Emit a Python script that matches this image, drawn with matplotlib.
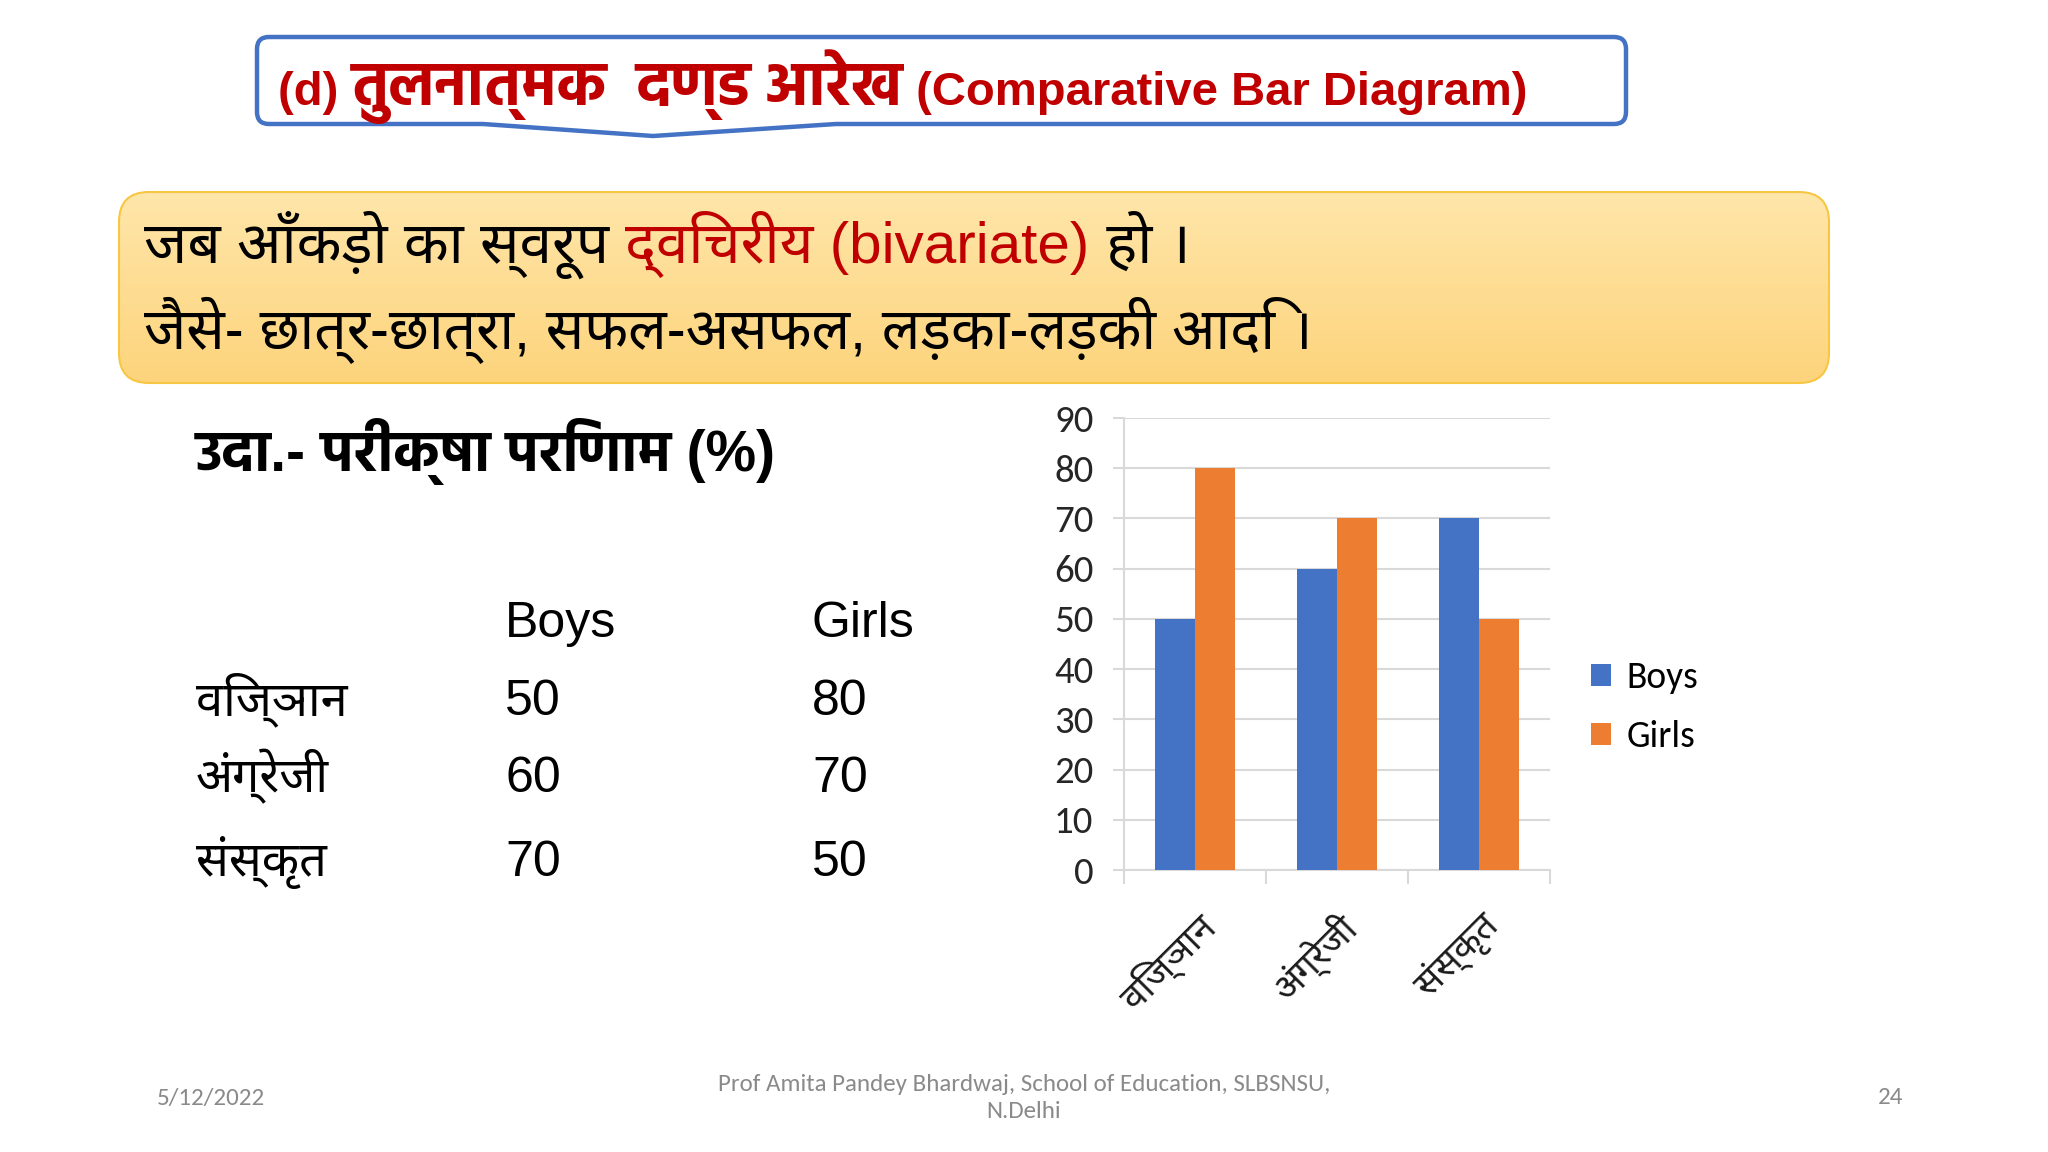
import matplotlib
matplotlib.use("Agg")
import matplotlib.pyplot as plt
import numpy as np
from matplotlib import font_manager as fm
from matplotlib.patches import FancyBboxPatch, PathPatch
from matplotlib.path import Path
from matplotlib.colors import LinearSegmentedColormap

# data
subjects = ["विज्ञान", "अंग्रेजी", "संस्कृत"]
series_names = ["Boys", "Girls"]
boys = [50, 60, 70]
girls = [80, 70, 50]
yticks = [0, 10, 20, 30, 40, 50, 60, 70, 80, 90]

title_parts = ["(d) ", "तुलनात्मक  दण्ड आरेख", " (Comparative Bar Diagram)"]
line1_parts = ["जब आँकड़ो का स्वरूप ", "द्विचरीय (bivariate)", " हो ।"]
line2 = "जैसे- छात्र-छात्रा, सफल-असफल, लड़का-लड़की आदि ।"
example_head = "उदा.- परीक्षा परिणाम (%)"
footer_date = "5/12/2022"
footer_mid = "Prof Amita Pandey Bhardwaj, School of Education, SLBSNSU,\nN.Delhi"
footer_page = "24"

BLUE = "#4472C4"
ORANGE = "#ED7D31"
RED = "#C00000"


def pick(cands, fallback="FreeSans", bold=False):
    # first installed family of the list (with a real bold face if asked)
    for c in cands:
        faces = [f for f in fm.fontManager.ttflist if f.name == c]
        if not faces:
            continue
        if bold and not any(isinstance(f.weight, int) and f.weight >= 700 or f.weight == "bold"
                            for f in faces):
            continue
        return c
    return fallback


DEV = pick(["Noto Sans Devanagari", "Hind", "Mukta", "Poppins", "Annapurna SIL"])
DEVB = pick(["Noto Sans Devanagari", "Hind", "Mukta", "Poppins", "Annapurna SIL"], bold=True)
LAT = pick(["Liberation Sans", "Arial"], "DejaVu Sans")
CAL = pick(["Carlito", "Calibri"], "DejaVu Sans")

plt.rcParams["font.family"] = [LAT, DEV, "DejaVu Sans"]

fig = plt.figure(figsize=(20.48, 11.52), dpi=100)
fig.patch.set_facecolor("white")

# full-figure axes in pixel coords for the slide decorations
bg = fig.add_axes([0, 0, 1, 1])
bg.axis("off")

# yellow box with vertical gradient
grad = np.linspace(0, 1, 256).reshape(-1, 1)
ycmap = LinearSegmentedColormap.from_list("y", ["#FFE6AA", "#FDD47C"])
im = bg.imshow(grad, extent=(119, 1829, 383, 192), cmap=ycmap, aspect="auto", zorder=1)
ybox = FancyBboxPatch((119, 192), 1710, 191, boxstyle="round,pad=0,rounding_size=30",
                      fc="none", ec="#F7C744", lw=1.5, zorder=2)
bg.add_patch(ybox)
im.set_clip_path(ybox)

# title box with the little notch at the bottom
L, R, T, B, r = 257, 1626, 37, 124, 12
verts = [(L + r, T), (R - r, T), (R, T), (R, T + r), (R, B - r), (R, B), (R - r, B),
         (836, B), (653, B + 12), (483, B), (L + r, B), (L, B), (L, B - r),
         (L, T + r), (L, T), (L + r, T), (L + r, T)]
codes = [Path.MOVETO, Path.LINETO, Path.CURVE3, Path.CURVE3, Path.LINETO, Path.CURVE3, Path.CURVE3,
         Path.LINETO, Path.LINETO, Path.LINETO, Path.LINETO, Path.CURVE3, Path.CURVE3,
         Path.LINETO, Path.CURVE3, Path.CURVE3, Path.CLOSEPOLY]
bg.add_patch(PathPatch(Path(verts, codes), fc="white", ec=BLUE, lw=3.2, zorder=2))

bg.set_xlim(0, 2048)
bg.set_ylim(1152, 0)

renderer = fig.canvas.get_renderer()


def seq_text(x, y, parts, **kw):
    # draw text pieces one after the other on the same baseline
    for s, style in parts:
        t = bg.text(x, y, s, va="baseline", ha="left", zorder=5, **{**kw, **style})
        x += t.get_window_extent(renderer=renderer).width
    return x


seq_text(278, 105, [
    (title_parts[0], dict(fontsize=34, family=[LAT, DEVB])),
    (title_parts[1], dict(fontsize=44, family=[DEVB, LAT])),
    (title_parts[2], dict(fontsize=34, family=[LAT, DEVB])),
], color=RED, weight="bold")

seq_text(144, 263, [
    (line1_parts[0], dict(color="black")),
    (line1_parts[1], dict(color=RED)),
    (line1_parts[2], dict(color="black")),
], fontsize=42, family=[LAT, DEV])
bg.text(144, 349, line2, fontsize=41, family=[LAT, DEV], va="baseline", zorder=5)

bg.text(196, 471, example_head, fontsize=41, weight="bold", family=[LAT, DEVB], va="baseline")

# table
bg.text(505, 637, series_names[0], fontsize=36, va="baseline")
bg.text(812, 637, series_names[1], fontsize=36, va="baseline")
row_y = [715, 792, 876]
for yy, name, b, g in zip(row_y, subjects, boys, girls):
    bg.text(196, yy, name, fontsize=35, family=[DEV, LAT], va="baseline")
    bg.text(505, yy, str(b), fontsize=36, va="baseline")
    bg.text(812, yy, str(g), fontsize=36, va="baseline")

# footer
fc = "#8A8A8A"
bg.text(157, 1098, footer_date, fontsize=18, family=CAL, color=fc, va="center")
bg.text(1024, 1098, footer_mid, fontsize=18, family=CAL, color=fc, va="center",
        ha="center", linespacing=1.35)
bg.text(1878, 1098, footer_page, fontsize=18, family=CAL, color=fc, va="center")

# the chart
ax = fig.add_axes([1124 / 2048, 1 - 870 / 1152, 426 / 2048, 452 / 1152])
x = np.arange(len(subjects))
w = 0.285
ax.bar(x - w / 2, boys, w, color=BLUE, label=series_names[0], zorder=3)
ax.bar(x + w / 2, girls, w, color=ORANGE, label=series_names[1], zorder=3)
ax.set_xlim(-0.5, len(subjects) - 0.5)
ax.set_ylim(0, 90)
ax.set_yticks(yticks)
ax.yaxis.grid(True, color="#D9D9D9", lw=1.5, zorder=0)
ax.set_axisbelow(True)
for s in ["top", "right"]:
    ax.spines[s].set_visible(False)
for s in ["left", "bottom"]:
    ax.spines[s].set_color("#D9D9D9")
    ax.spines[s].set_linewidth(1.5)
ax.tick_params(axis="y", length=8, width=1.5, color="#D9D9D9", pad=14,
               labelsize=28, labelcolor="#262626")
for lab in ax.get_yticklabels():
    lab.set_family([CAL, DEV])
ax.set_xticks(x)
ax.set_xticklabels(subjects, rotation=45, ha="right", va="top", rotation_mode="anchor",
                   fontsize=27, family=[DEV, CAL], color="#1A1A1A")
ax.tick_params(axis="x", which="major", length=0, pad=26)
ax.set_xticks(np.arange(-0.5, len(subjects)), minor=True)
ax.tick_params(axis="x", which="minor", length=10, width=1.5, color="#D9D9D9")

ax.legend(loc="center left", bbox_to_anchor=(1.06, 0.36), frameon=False,
          prop={"family": CAL, "size": 27}, handlelength=0.55, handleheight=0.55,
          handletextpad=0.4, labelspacing=0.7, borderaxespad=0)

fig.savefig("out.png", dpi=100)
